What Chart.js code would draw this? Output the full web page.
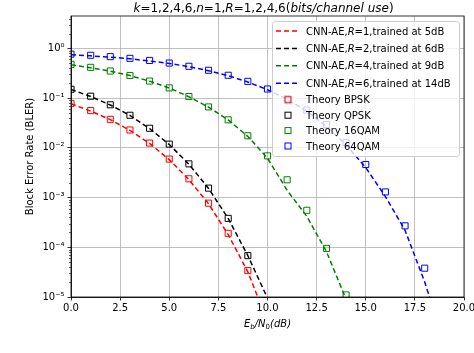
<!DOCTYPE html>
<html>
<head>
<meta charset="utf-8">
<script src="https://cdn.jsdelivr.net/npm/chart.js@4.4.1/dist/chart.umd.min.js"></script>
<style>
  html, body { margin: 0; padding: 0; background: #fff; }
  canvas { display: block; }
</style>
</head>
<body>
<canvas id="bler-chart" width="474" height="353"></canvas>
<script>
// Eb/N0 points (dB)
const snrDb = [0, 1, 2, 3, 4, 5, 6, 7, 8, 9, 10, 11, 12, 13, 14, 15, 16, 17, 18, 19, 20];

// CNN-AE curves (dashed)
const aeRates = [1, 2, 4, 6];
const aeTrainDb = [5, 6, 9, 14];
const aeR1 = [0.077, 0.055, 0.037, 0.0225, 0.0123, 0.0058, 0.0023, 0.00075, 0.00018, 3.2e-5, 3.2e-6];
const aeR2 = [0.15, 0.108, 0.073, 0.045, 0.0245, 0.0117, 0.0047, 0.00153, 0.00038, 6.8e-5, 9.5e-6, 9e-7];
const aeR4 = [0.47, 0.41, 0.35, 0.285, 0.22, 0.16, 0.107, 0.066, 0.0365, 0.017, 0.0062, 0.0014, 0.00042, 8.2e-5, 9e-6, 6e-7];
const aeR6 = [0.75, 0.71, 0.67, 0.62, 0.56, 0.5, 0.43, 0.357, 0.283, 0.212, 0.148, 0.095, 0.055, 0.027, 0.0115, 0.004, 0.00105, 0.00022, 2.0e-5, 1.2e-6];

// Theory markers
const theoryNames = ['BPSK', 'QPSK', '16QAM', '64QAM'];
const thBpsk = [0.0786, 0.0563, 0.0375, 0.0229, 0.0125, 0.00595, 0.00239, 0.000773, 0.000191, 3.4e-5];
const thQpsk = [0.151, 0.1095, 0.0736, 0.0453, 0.0248, 0.0119, 0.00477, 0.00155, 0.000382, 6.8e-5];
const th16qam = [0.479, 0.417, 0.352, 0.286, 0.221, 0.161, 0.108, 0.0667, 0.0367, 0.0175, 0.0069, 0.00228, 0.000555, 9.5e-5, 1.1e-5];
const th64qam = [0.769, 0.73, 0.685, 0.633, 0.574, 0.509, 0.438, 0.364, 0.289, 0.218, 0.153, 0.0987, 0.0575, 0.0295, 0.0129, 0.00463, 0.0013, 0.00027, 3.8e-5];

// Axis ticks
const xTicks = [0, 2.5, 5, 7.5, 10, 12.5, 15, 17.5, 20];
const yTicks = [1e-5, 1e-4, 1e-3, 1e-2, 1e-1, 1];
const yTickLabels = ['10\u207b\u2075', '10\u207b\u2074', '10\u207b\u00b3', '10\u207b\u00b2', '10\u207b\u00b9', '10\u2070'];

const colors = ['#ff0000', '#000000', '#008000', '#0000ff'];
const FONT = "'DejaVu Sans', sans-serif";

function toPoints(values) {
    return values.map((v, i) => ({ x: snrDb[i], y: v }));
}

// draw a row of text pieces, some italic / sub-scripted
function richText(ctx, parts, x, y, align) {
    let total = 0;
    parts.forEach(p => {
        ctx.font = (p.it ? 'italic ' : '') + p.size + 'px ' + FONT;
        p.w = ctx.measureText(p.t).width;
        total += p.w;
    });
    let cx = align === 'center' ? x - total / 2 : x;
    ctx.textAlign = 'left';
    ctx.textBaseline = 'alphabetic';
    parts.forEach(p => {
        ctx.font = (p.it ? 'italic ' : '') + p.size + 'px ' + FONT;
        ctx.fillText(p.t, cx, y + (p.dy || 0));
        cx += p.w;
    });
}

const extrasPlugin = {
    id: 'extras',
    afterDraw(chart) {
        const ctx = chart.ctx;
        const area = chart.chartArea;
        const yScale = chart.scales.y;
        ctx.save();

        // frame
        ctx.strokeStyle = '#000';
        ctx.lineWidth = 0.8;
        ctx.strokeRect(area.left, area.top, area.right - area.left, area.bottom - area.top);

        // minor log ticks
        ctx.beginPath();
        for (let e = -5; e <= 0; e++) {
            for (let k = 2; k <= 9; k++) {
                const v = k * Math.pow(10, e);
                if (v > yScale.max) break;
                const py = Math.round(yScale.getPixelForValue(v)) + 0.5;
                ctx.moveTo(area.left - 2, py);
                ctx.lineTo(area.left, py);
            }
        }
        ctx.lineWidth = 0.6;
        ctx.stroke();

        // title
        ctx.fillStyle = '#000';
        const ts = 12;
        richText(ctx, [
            { t: 'k', it: true, size: ts }, { t: '=1,2,4,6,', size: ts },
            { t: 'n', it: true, size: ts }, { t: '=1,', size: ts },
            { t: 'R', it: true, size: ts }, { t: '=1,2,4,6(', size: ts },
            { t: 'bits/channel use', it: true, size: ts }, { t: ')', size: ts }
        ], (area.left + area.right) / 2 - 4, 12, 'center');

        // x axis title
        richText(ctx, [
            { t: 'E', it: true, size: 10 }, { t: 'b', it: true, size: 7, dy: 2 },
            { t: '/N', it: true, size: 10 }, { t: '0', size: 7, dy: 2 },
            { t: '(dB)', it: true, size: 10 }
        ], (area.left + area.right) / 2, 327, 'center');

        // y axis title
        ctx.save();
        ctx.translate(33, (area.top + area.bottom) / 2);
        ctx.rotate(-Math.PI / 2);
        ctx.font = '10px ' + FONT;
        ctx.textAlign = 'center';
        ctx.textBaseline = 'alphabetic';
        ctx.fillText('Block Error Rate (BLER)', 0, 0);
        ctx.restore();

        // legend
        const lx = 272.5, ly = 21.5, lw = 187, lh = 135;
        ctx.beginPath();
        ctx.roundRect(lx, ly, lw, lh, 3);
        ctx.fillStyle = 'rgba(255,255,255,0.8)';
        ctx.fill();
        ctx.strokeStyle = '#cccccc';
        ctx.lineWidth = 1;
        ctx.stroke();

        const rowY = [31, 48.4, 65.8, 83.2, 99.8, 115.2, 130.6, 146];
        ctx.fillStyle = '#000';
        aeRates.forEach((r, i) => {
            const y = rowY[i];
            ctx.beginPath();
            ctx.setLineDash([5, 3]);
            ctx.strokeStyle = colors[i];
            ctx.lineWidth = 1.5;
            ctx.moveTo(276, y);
            ctx.lineTo(300, y);
            ctx.stroke();
            ctx.setLineDash([]);
            ctx.fillStyle = '#000';
            richText(ctx, [
                { t: 'CNN-AE,', size: 10 }, { t: 'R', it: true, size: 10 },
                { t: '=' + r + ',trained at ' + aeTrainDb[i] + 'dB', size: 10 }
            ], 306, y + 3.5, 'left');
        });
        theoryNames.forEach((name, i) => {
            const y = rowY[4 + i];
            ctx.strokeStyle = colors[i];
            ctx.lineWidth = 1;
            ctx.strokeRect(285, y - 3, 6, 6);
            ctx.fillStyle = '#000';
            richText(ctx, [{ t: 'Theory ' + name, size: 10 }], 306, y + 3.5, 'left');
        });
        ctx.restore();
    }
};

const aeSeries = [aeR1, aeR2, aeR4, aeR6];
const thSeries = [thBpsk, thQpsk, th16qam, th64qam];

const datasets = [];
aeSeries.forEach((vals, i) => {
    datasets.push({
        label: 'CNN-AE R=' + aeRates[i],
        data: toPoints(vals),
        borderColor: colors[i],
        borderWidth: 1.5,
        borderDash: [5, 3],
        pointRadius: 0,
        tension: 0,
        fill: false,
        order: 1
    });
});
thSeries.forEach((vals, i) => {
    datasets.push({
        label: 'Theory ' + theoryNames[i],
        data: toPoints(vals),
        showLine: false,
        borderColor: colors[i],
        backgroundColor: 'rgba(0,0,0,0)',
        borderWidth: 1,
        pointStyle: 'rect',
        pointRadius: 4.3,
        order: 0
    });
});

const ctx = document.getElementById('bler-chart');
new Chart(ctx, {
    type: 'line',
    data: { datasets: datasets },
    options: {
        responsive: false,
        animation: false,
        layout: { padding: { left: 0, right: 10, top: 16, bottom: 0 } },
        plugins: {
            legend: { display: false },
            tooltip: { enabled: false }
        },
        scales: {
            x: {
                type: 'linear',
                min: xTicks[0],
                max: xTicks[xTicks.length - 1],
                afterBuildTicks: scale => { scale.ticks = xTicks.map(v => ({ value: v })); },
                afterFit: scale => {
                    scale.height = 56;
                    scale.paddingLeft = 0;
                    scale.paddingRight = 0;
                },
                ticks: {
                    callback: v => v.toFixed(1),
                    font: { family: FONT, size: 10 },
                    color: '#000',
                    padding: 2,
                    maxRotation: 0
                },
                grid: { color: '#b0b0b0', lineWidth: 0.8, tickColor: '#000', tickLength: 3.5 },
                border: { color: '#000', width: 0.8 }
            },
            y: {
                type: 'logarithmic',
                min: 1e-5,
                max: 4.5,
                afterBuildTicks: scale => { scale.ticks = yTicks.map(v => ({ value: v, major: true })); },
                afterFit: scale => {
                    scale.width = 71;
                    scale.paddingTop = 0;
                    scale.paddingBottom = 0;
                },
                ticks: {
                    callback: v => yTickLabels[yTicks.indexOf(v)],
                    font: { family: FONT, size: 10 },
                    color: '#000',
                    padding: 3
                },
                grid: { color: '#b0b0b0', lineWidth: 0.8, tickColor: '#000', tickLength: 3.5 },
                border: { color: '#000', width: 0.8 }
            }
        }
    },
    plugins: [extrasPlugin]
});
</script>
</body>
</html>
